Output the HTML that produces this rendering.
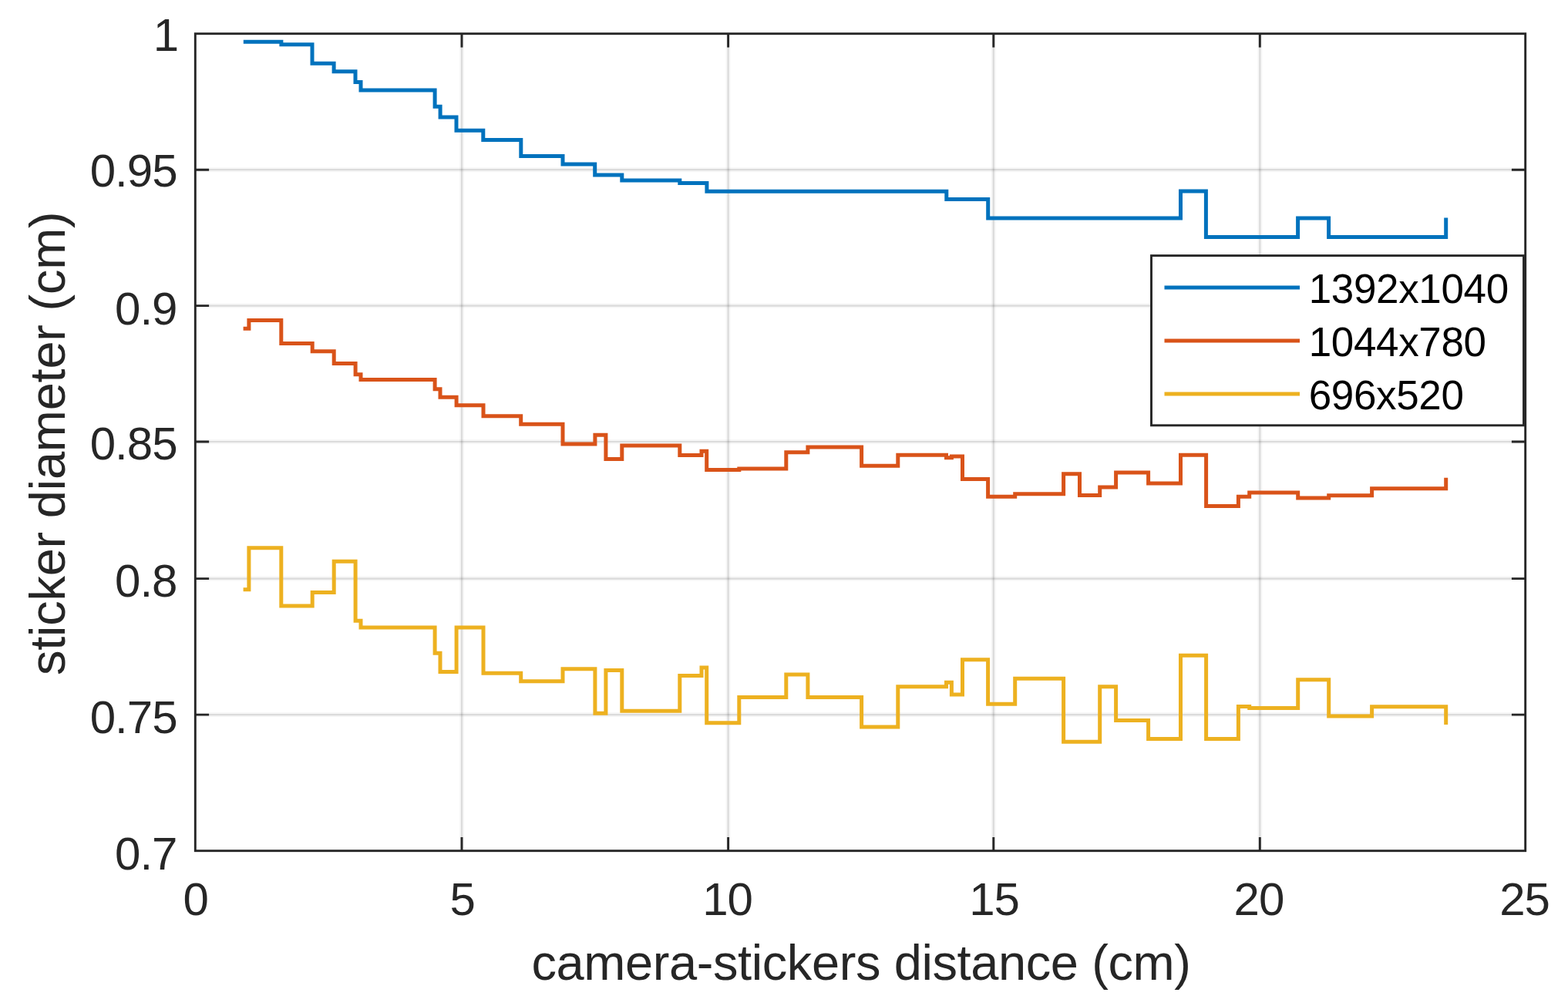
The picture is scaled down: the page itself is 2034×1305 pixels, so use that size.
<!DOCTYPE html>
<html lang="en">
<head>
<meta charset="utf-8">
<title>sticker diameter vs camera-stickers distance</title>
<style>
html,body{margin:0;padding:0;background:#fff;}
body{width:2034px;height:1305px;overflow:hidden;}
svg{display:block;}
text{font-family:"Liberation Sans",sans-serif;fill:#262626;}
.tk{font-size:60px;letter-spacing:-1.0px;}
.lb{font-size:65px;letter-spacing:-0.4px;}
.lg{font-size:53px;letter-spacing:-0.35px;fill:#000;}
.g{stroke:#262626;stroke-opacity:.13;stroke-width:2.2;fill:none;}
.h{stroke:#262626;stroke-opacity:.045;stroke-width:6;fill:none;}
.a{stroke:#262626;stroke-width:2.9;fill:none;}
.s{fill:none;stroke-width:5;stroke-linejoin:miter;stroke-linecap:butt;}
</style>
</head>
<body>
<svg width="2034" height="1305" viewBox="0 0 2034 1305" role="img" aria-label="Sticker diameter versus camera-stickers distance for three image resolutions">
<rect x="0" y="0" width="2034" height="1305" fill="#ffffff"/>
<g>
<g class="h">
<path d="M599.0 43.7V1103.7"/>
<path d="M944.6 43.7V1103.7"/>
<path d="M1288.8 43.7V1103.7"/>
<path d="M1634.3 43.7V1103.7"/>
<path d="M253.3 220.2H1978.7"/>
<path d="M253.3 396.6H1978.7"/>
<path d="M253.3 573.0H1978.7"/>
<path d="M253.3 750.6H1978.7"/>
<path d="M253.3 927.1H1978.7"/>
</g>
<g class="g">
<path d="M599.0 43.7V1103.7"/>
<path d="M944.6 43.7V1103.7"/>
<path d="M1288.8 43.7V1103.7"/>
<path d="M1634.3 43.7V1103.7"/>
<path d="M253.3 220.2H1978.7"/>
<path d="M253.3 396.6H1978.7"/>
<path d="M253.3 573.0H1978.7"/>
<path d="M253.3 750.6H1978.7"/>
<path d="M253.3 927.1H1978.7"/>
</g>
<path class="s" stroke="#0072BD" d="M315.8 54.2H364.9V57.7H405.0V82.2H433.1V92.7H461.0V106.6H468.0V117.1H564.1V138.2H571.1V152.0H592.0V169.3H626.8V181.6H675.8V202.5H730.0V212.9H771.7V227.1H806.8V234.0H881.8V237.5H916.9V248.2H1227.8V258.5H1281.7V282.9H1531.5V248.1H1564.4V307.4H1683.6V282.9H1723.6V307.4H1875.7V282.4"/>
<path class="s" stroke="#D95319" d="M315.6 426.2H322.9V415.6H364.8V445.5H405.2V455.8H433.2V471.5H461.1V485.7H468.0V492.6H564.1V504.8H571.0V515.3H592.1V525.7H627.0V539.8H675.7V550.3H730.0V576.1H771.9V564.3H785.9V595.4H806.8V578.1H881.8V590.5H910.0V585.3H916.7V609.4H958.8V608.0H1019.8V586.8H1047.9V579.9H1117.6V604.3H1164.8V590.3H1227.5V593.7H1234.4V592.1H1248.5V621.6H1281.6V644.3H1316.7V640.7H1379.6V614.7H1400.5V642.5H1426.7V632.0H1447.6V612.9H1489.6V626.9H1531.5V590.3H1564.6V656.5H1606.4V644.3H1620.7V639.1H1683.7V646.0H1723.7V642.7H1779.6V633.8H1875.7V619.8"/>
<path class="s" stroke="#EDB120" d="M315.6 764.8H322.9V710.7H364.8V785.9H405.2V768.4H433.2V728.2H461.1V805.2H468.0V813.9H564.1V847.2H571.0V871.6H592.1V813.9H627.0V873.2H675.7V883.7H730.0V867.8H771.9V925.3H785.9V869.6H806.8V922.2H881.8V876.5H910.0V866.0H916.7V937.7H958.8V904.6H1019.8V874.9H1047.9V904.6H1117.6V942.9H1164.8V890.7H1227.5V885.3H1234.4V901.1H1248.5V855.8H1281.6V913.3H1316.7V880.2H1379.6V962.2H1426.7V890.7H1447.6V934.4H1489.6V958.6H1531.5V850.3H1564.6V958.6H1606.4V916.5H1620.7V918.6H1683.7V881.8H1723.7V929.1H1779.6V916.7H1875.7V939.9"/>
<g class="a">
<rect x="253.3" y="43.7" width="1725.4" height="1060.0"/>
<path d="M599.0 1103.7v-17.8M599.0 43.7v17.8"/>
<path d="M944.6 1103.7v-17.8M944.6 43.7v17.8"/>
<path d="M1288.8 1103.7v-17.8M1288.8 43.7v17.8"/>
<path d="M1634.3 1103.7v-17.8M1634.3 43.7v17.8"/>
<path d="M253.3 220.2h17.8M1978.7 220.2h-17.8"/>
<path d="M253.3 396.6h17.8M1978.7 396.6h-17.8"/>
<path d="M253.3 573.0h17.8M1978.7 573.0h-17.8"/>
<path d="M253.3 750.6h17.8M1978.7 750.6h-17.8"/>
<path d="M253.3 927.1h17.8M1978.7 927.1h-17.8"/>
</g>
<g class="tk" text-anchor="middle">
<text x="253.7" y="1187.4">0</text>
<text x="599.8" y="1187.4">5</text>
<text x="943.6" y="1187.4">10</text>
<text x="1289.6" y="1187.4">15</text>
<text x="1632.9" y="1187.4">20</text>
<text x="1977.5" y="1187.4">25</text>
</g>
<g class="tk" text-anchor="end">
<text x="231.0" y="65.5">1</text>
<text x="229.5" y="242.4">0.95</text>
<text x="229.5" y="421.2">0.9</text>
<text x="229.5" y="596.4">0.85</text>
<text x="229.5" y="773.9">0.8</text>
<text x="229.5" y="951.3">0.75</text>
<text x="229.5" y="1128.0">0.7</text>
</g>
<text class="lb" text-anchor="middle" x="1117.0" y="1270.7">camera-stickers distance (cm)</text>
<text class="lb" style="letter-spacing:-0.25px" text-anchor="middle" transform="translate(84.3 575.3) rotate(-90)">sticker diameter (cm)</text>
<rect x="1493.5" y="331.6" width="483.0" height="220.2" fill="#fff" stroke="#262626" stroke-width="2.9"/>
<path class="s" stroke="#0072BD" d="M1510.5 372.9H1686.0"/>
<text class="lg" x="1697.7" y="392.9">1392x1040</text>
<path class="s" stroke="#D95319" d="M1510.5 441.9H1686.0"/>
<text class="lg" x="1697.7" y="461.9">1044x780</text>
<path class="s" stroke="#EDB120" d="M1510.5 510.9H1686.0"/>
<text class="lg" x="1697.7" y="530.9">696x520</text>
</g>
</svg>
</body>
</html>
